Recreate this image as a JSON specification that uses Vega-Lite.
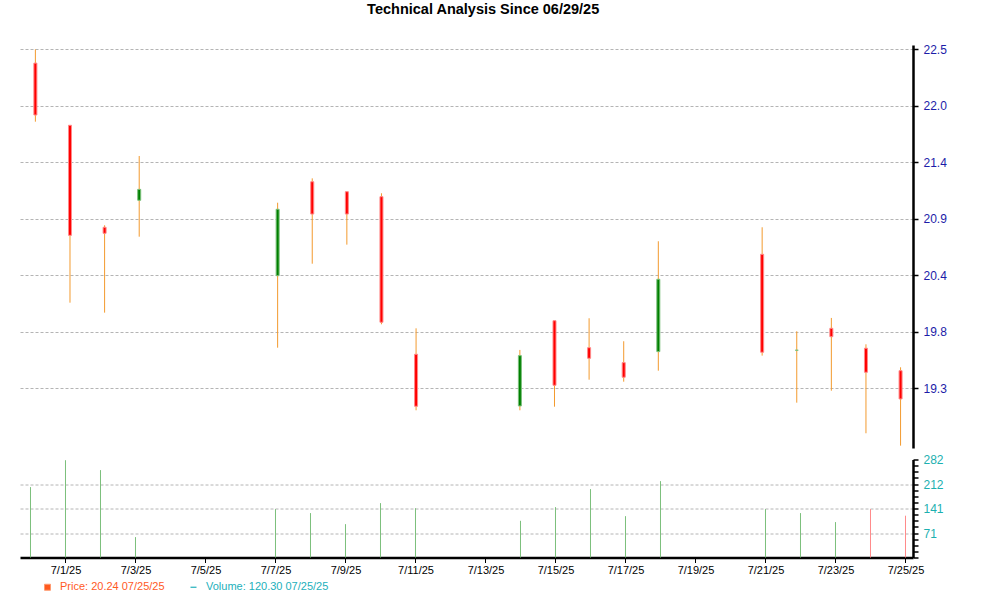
{
  "$schema": "https://vega.github.io/schema/vega-lite/v6.json",
  "background": "white",
  "padding": {"left": 20, "top": 1, "right": 10, "bottom": 5},
  "title": {"text": "Technical Analysis Since 06/29/25", "font": "Liberation Sans", "fontSize": 14.5, "fontWeight": "bold", "color": "#000000", "anchor": "middle", "offset": 26},
  "config": {"view": {"stroke": null}, "font": "Liberation Sans"},
  "spacing": 11.5,
  "bounds": "flush",
  "resolve": {"legend": {"color": "independent"}},
  "datasets": {
    "d": [
      {"date": "2025-06-30T00:00:00", "open": 22.37, "high": 22.5, "low": 21.817, "close": 21.88, "vol": 202.6, "dir": "down", "vdir": "up"},
      {"date": "2025-07-01T00:00:00", "open": 21.783, "high": 21.783, "low": 20.108, "close": 20.744, "vol": 280, "dir": "down", "vdir": "up"},
      {"date": "2025-07-02T00:00:00", "open": 20.82, "high": 20.839, "low": 20.014, "close": 20.763, "vol": 251.5, "dir": "down", "vdir": "up"},
      {"date": "2025-07-03T00:00:00", "open": 21.075, "high": 21.493, "low": 20.731, "close": 21.178, "vol": 58.7, "dir": "up", "vdir": "up"},
      {"date": "2025-07-07T00:00:00", "open": 20.363, "high": 21.052, "low": 19.683, "close": 20.99, "vol": 139.3, "dir": "up", "vdir": "up"},
      {"date": "2025-07-08T00:00:00", "open": 21.25, "high": 21.282, "low": 20.476, "close": 20.945, "vol": 127.8, "dir": "down", "vdir": "up"},
      {"date": "2025-07-09T00:00:00", "open": 21.156, "high": 21.156, "low": 20.656, "close": 20.945, "vol": 96, "dir": "down", "vdir": "up"},
      {"date": "2025-07-10T00:00:00", "open": 21.109, "high": 21.141, "low": 19.904, "close": 19.923, "vol": 156.5, "dir": "down", "vdir": "up"},
      {"date": "2025-07-11T00:00:00", "open": 19.621, "high": 19.866, "low": 19.092, "close": 19.13, "vol": 142, "dir": "down", "vdir": "up"},
      {"date": "2025-07-14T00:00:00", "open": 19.133, "high": 19.662, "low": 19.092, "close": 19.608, "vol": 105.6, "dir": "up", "vdir": "up"},
      {"date": "2025-07-15T00:00:00", "open": 19.938, "high": 19.938, "low": 19.126, "close": 19.328, "vol": 145, "dir": "down", "vdir": "up"},
      {"date": "2025-07-16T00:00:00", "open": 19.683, "high": 19.961, "low": 19.381, "close": 19.583, "vol": 196.8, "dir": "down", "vdir": "up"},
      {"date": "2025-07-17T00:00:00", "open": 19.542, "high": 19.744, "low": 19.362, "close": 19.404, "vol": 119, "dir": "down", "vdir": "up"},
      {"date": "2025-07-18T00:00:00", "open": 19.646, "high": 20.688, "low": 19.466, "close": 20.329, "vol": 219.8, "dir": "up", "vdir": "up"},
      {"date": "2025-07-21T00:00:00", "open": 20.565, "high": 20.82, "low": 19.608, "close": 19.64, "vol": 139.3, "dir": "down", "vdir": "up"},
      {"date": "2025-07-22T00:00:00", "open": 19.659, "high": 19.838, "low": 19.164, "close": 19.659, "vol": 127.8, "dir": "up", "vdir": "up"},
      {"date": "2025-07-23T00:00:00", "open": 19.866, "high": 19.964, "low": 19.277, "close": 19.787, "vol": 101.9, "dir": "down", "vdir": "up"},
      {"date": "2025-07-24T00:00:00", "open": 19.678, "high": 19.715, "low": 18.875, "close": 19.451, "vol": 139.3, "dir": "down", "vdir": "down"},
      {"date": "2025-07-25T00:00:00", "open": 19.466, "high": 19.498, "low": 18.758, "close": 19.199, "vol": 120.3, "dir": "down", "vdir": "down"}
    ]
  },
  "vconcat": [
    {
      "width": 893,
      "height": 403,
      "data": {"name": "d"},
      "layer": [
        {
          "mark": {"type": "rule", "color": "#f39a2e", "strokeWidth": 1},
          "encoding": {
            "x": {"field": "date", "type": "temporal", "axis": null,
              "scale": {"domain": [{"year": 2025, "month": 6, "date": 29, "hours": 16, "minutes": 48}, {"year": 2025, "month": 7, "date": 25, "hours": 5, "minutes": 9}]}},
            "y": {"field": "low", "type": "quantitative",
              "scale": {"domain": [18.736, 22.541], "zero": false, "nice": false},
              "axis": {"orient": "right", "title": null, "values": [19.3, 19.8333, 20.3667, 20.9, 21.4333, 21.9667, 22.5], "format": ".1f",
                "grid": true, "gridDash": [3, 2], "gridColor": "#b4b4b4", "gridWidth": 1,
                "domain": true, "domainColor": "#000000", "domainWidth": 2.5,
                "ticks": true, "tickColor": "#000000", "tickSize": 5, "tickWidth": 1.5,
                "labelColor": "#1c1ca8", "labelFont": "Liberation Sans", "labelFontSize": 12, "labelPadding": 5}},
            "y2": {"field": "high"}
          }
        },
        {
          "mark": {"type": "bar", "size": 3, "strokeWidth": 1},
          "encoding": {
            "x": {"field": "date", "type": "temporal"},
            "y": {"field": "open", "type": "quantitative"},
            "y2": {"field": "close"},
            "fill": {"field": "dir", "type": "nominal", "scale": {"domain": ["up", "down"], "range": ["#008000", "#ff0000"]}, "legend": null},
            "stroke": {"field": "dir", "type": "nominal", "scale": {"domain": ["up", "down"], "range": ["#7cc07c", "#ff8a8a"]}, "legend": null}
          }
        }
      ]
    },
    {
      "width": 893,
      "height": 98,
      "data": {"name": "d"},
      "layer": [
        {
          "mark": {"type": "rule", "strokeWidth": 1},
          "encoding": {
            "x": {"field": "date", "type": "temporal",
              "scale": {"domain": [{"year": 2025, "month": 6, "date": 29, "hours": 16, "minutes": 48}, {"year": 2025, "month": 7, "date": 25, "hours": 5, "minutes": 9}]},
              "axis": {"title": null, "format": "%-m/%-d/%y", "grid": false,
                "values": [{"year": 2025, "month": 7, "date": 1}, {"year": 2025, "month": 7, "date": 3}, {"year": 2025, "month": 7, "date": 5}, {"year": 2025, "month": 7, "date": 7}, {"year": 2025, "month": 7, "date": 9}, {"year": 2025, "month": 7, "date": 11}, {"year": 2025, "month": 7, "date": 13}, {"year": 2025, "month": 7, "date": 15}, {"year": 2025, "month": 7, "date": 17}, {"year": 2025, "month": 7, "date": 19}, {"year": 2025, "month": 7, "date": 21}, {"year": 2025, "month": 7, "date": 23}, {"year": 2025, "month": 7, "date": 25}],
                "domain": true, "domainColor": "#000000", "domainWidth": 2.5,
                "tickColor": "#000000", "tickSize": 5, "tickWidth": 1,
                "labelColor": "#000000", "labelFont": "Liberation Sans", "labelFontSize": 11, "labelPadding": 2,
                "labelOverlap": false, "labelFlush": false}},
            "y": {"field": "vol", "type": "quantitative",
              "scale": {"domain": [0, 282], "nice": false},
              "axis": {"orient": "right", "title": null,
                "values": [0, 17.625, 35.25, 52.875, 70.5, 88.125, 105.75, 123.375, 141, 158.625, 176.25, 193.875, 211.5, 229.125, 246.75, 264.375, 282],
                "labelExpr": "(datum.value == 70.5 || datum.value == 141 || datum.value == 211.5 || datum.value == 282) ? format(datum.value, '.0f') : ''",
                "grid": true, "gridDash": [3, 2], "gridColor": "#b4b4b4",
                "gridOpacity": {"condition": {"test": "datum.value == 70.5 || datum.value == 141 || datum.value == 211.5", "value": 1}, "value": 0},
                "domain": true, "domainColor": "#000000", "domainWidth": 2.5,
                "tickColor": "#000000", "tickSize": 5, "tickWidth": 1.5,
                "labelColor": "#1cb0b0", "labelFont": "Liberation Sans", "labelFontSize": 12, "labelPadding": 5, "labelOverlap": false}},
            "y2": {"datum": 0},
            "stroke": {"field": "vdir", "type": "nominal", "scale": {"domain": ["up", "down"], "range": ["#1fa83c", "#ff0000"]}, "legend": null}
          }
        },
        {
          "data": {"values": [{"series": "Price: 20.24  07/25/25"}, {"series": "Volume: 120.30  07/25/25"}]},
          "mark": {"type": "point", "opacity": 0, "filled": true},
          "encoding": {
            "color": {"field": "series", "type": "nominal",
              "scale": {"domain": ["Price: 20.24  07/25/25", "Volume: 120.30  07/25/25"], "range": ["#ff5a1f", "#22b0bb"]},
              "legend": {"orient": "none", "legendX": 22, "legendY": 122, "direction": "horizontal", "title": null,
                "labelFont": "Liberation Sans", "labelFontSize": 11, "symbolSize": 36, "labelOffset": 7, "columnPadding": 20, "padding": 0,
                "encode": {
                  "symbols": {"update": {
                    "shape": {"signal": "datum.value == 'Volume: 120.30  07/25/25' ? 'M-1,-0.2H1V0.2H-1Z' : 'square'"},
                    "opacity": {"value": 1},
                    "fill": {"signal": "datum.value == 'Volume: 120.30  07/25/25' ? '#22b0bb' : '#ff5a1f'"},
                    "stroke": {"signal": "datum.value == 'Volume: 120.30  07/25/25' ? 'transparent' : '#ff9a70'"},
                    "strokeWidth": {"value": 1}}},
                  "labels": {"update": {"fill": {"signal": "datum.value == 'Volume: 120.30  07/25/25' ? '#22b0bb' : '#ff5a1f'"}}}
                }}
            }
          }
        }
      ]
    }
  ]
}
